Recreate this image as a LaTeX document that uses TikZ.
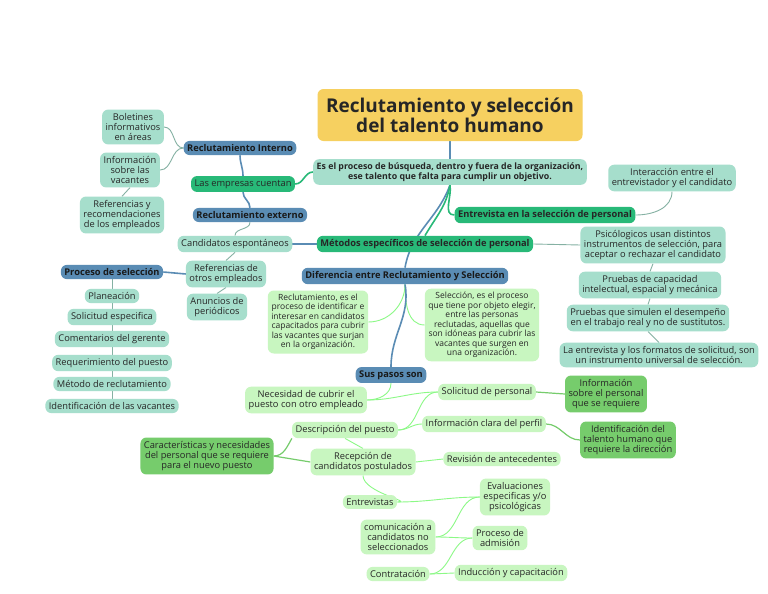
\documentclass[tikz,border=0pt]{standalone}
\usepackage{fontspec}
\setmainfont{Open Sans}
\usetikzlibrary{backgrounds}
\definecolor{teal}{RGB}{166,222,204}
\definecolor{blu}{RGB}{90,140,180}
\definecolor{grn}{RGB}{40,185,120}
\definecolor{lgr}{RGB}{200,246,192}
\definecolor{mgr}{RGB}{118,204,108}
\definecolor{yel}{RGB}{246,208,96}
\tikzset{
 base/.style={rounded corners=6pt, align=center, font=\fontsize{9.3}{10.3}\selectfont, inner sep=3.5pt, text=black!85},
 tl/.style={base, fill=teal},
 bl/.style={base, fill=blu, font=\fontsize{9.3}{10.3}\selectfont\bfseries, text=black!90},
 gn/.style={base, fill=grn, font=\fontsize{9.3}{10.3}\selectfont\bfseries},
 lg/.style={base, fill=lgr},
 mg/.style={base, fill=mgr},
 lnt/.style={teal!80!black, line width=0.9pt},
 lnb/.style={blu, line width=1.6pt},
 lng/.style={grn, line width=1.6pt},
 lnl/.style={lgr!70!green, line width=0.9pt},
 lnm/.style={mgr, line width=1.2pt},
}
\begin{document}
\begin{tikzpicture}[x=1pt,y=-1pt]
\useasboundingbox (0,0) rectangle (768,594);
% nodes
\node[base, fill=yel, font=\fontsize{19}{20}\selectfont\bfseries, minimum width=265pt, minimum height=52pt, inner sep=2pt] (title) at (450,115) {Reclutamiento y selección\\del talento humano};
\node[tl, font=\fontsize{8.8}{9.8}\selectfont\bfseries] (es) at (450,172) {Es el proceso de búsqueda, dentro y fuera de la organización,\\ese talento que falta para cumplir un objetivo.};
\node[tl] (inter) at (672,178) {Interacción entre el\\entrevistador y el candidato};
\node[gn] (entr) at (545,215) {Entrevista en la selección de personal};
\node[bl] (rint) at (240,148) {Reclutamiento Interno};
\node[tl] (bol) at (133,127) {Boletines\\informativos\\en áreas};
\node[tl] (infv) at (130,170) {Información\\sobre las\\vacantes};
\node[gn, font=\fontsize{9.3}{10.3}\selectfont] (emp) at (243,184) {Las empresas cuentan};
\node[tl] (refr) at (122,215) {Referencias y\\recomendaciones\\de los empleados};
\node[bl] (rext) at (250,215) {Reclutamiento externo};
\node[tl] (cand) at (235,244) {Candidatos espontáneos};
\node[gn] (met) at (425,244) {Métodos específicos de selección de personal};
\node[tl] (psi) at (653,245) {Psicólogicos usan distintos\\instrumentos de selección, para\\aceptar o rechazar el candidato};
\node[tl] (refo) at (226,274) {Referencias de\\otros empleados};
\node[bl] (pros) at (112,272) {Proceso de selección};
\node[bl] (dif) at (405,276) {Diferencia entre Reclutamiento y Selección};
\node[tl] (pcap) at (650,285) {Pruebas de capacidad\\intelectual, espacial y mecánica};
\node[tl] (anu) at (217,307) {Anuncios de\\periódicos};
\node[tl] (plan) at (112,296) {Planeación};
\node[tl] (sole) at (112,317) {Solicitud especifica};
\node[tl] (com) at (112,339) {Comentarios del gerente};
\node[tl] (req) at (112,363) {Requerimiento del puesto};
\node[tl] (metr) at (112,384) {Método de reclutamiento};
\node[tl] (idv) at (112,406) {Identificación de las vacantes};
\node[lg, font=\fontsize{8.5}{9.5}\selectfont] (recb) at (318,322) {Reclutamiento, es el\\proceso de identificar e\\interesar en candidatos\\capacitados para cubrir\\las vacantes que surjan\\en la organización.};
\node[lg, font=\fontsize{8.5}{9.5}\selectfont] (selb) at (482,325) {Selección, es el proceso\\que tiene por objeto elegir,\\entre las personas\\reclutadas, aquellas que\\son idóneas para cubrir las\\vacantes que surgen en\\una organización.};
\node[tl] (psim) at (648,318) {Pruebas que simulen el desempeño\\en el trabajo real y no de sustitutos.};
\node[tl] (lae) at (659,355) {La entrevista y los formatos de solicitud, son\\un instrumento universal de selección.};
\node[bl] (sus) at (391,375) {Sus pasos son};
\node[lg] (nec) at (306,400) {Necesidad de cubrir el\\puesto con otro empleado};
\node[lg] (solp) at (487,392) {Solicitud de personal};
\node[mg] (infp) at (606,394) {Información\\sobre el personal\\que se requiere};
\node[lg] (desc) at (345,430) {Descripción del puesto};
\node[lg] (infc) at (484,424) {Información clara del perfil};
\node[mg] (idt) at (628,440) {Identificación del\\talento humano que\\requiere la dirección};
\node[mg] (car) at (207,456) {Características y necesidades\\del personal que se requiere\\para el nuevo puesto};
\node[lg] (rec) at (363,462) {Recepción de\\candidatos postulados};
\node[lg] (rev) at (502,459) {Revisión de antecedentes};
\node[lg] (ent) at (370,502) {Entrevistas};
\node[lg] (eva) at (515,497) {Evaluaciones\\especificas y/o\\psicológicas};
\node[lg] (comu) at (398,537) {comunicación a\\candidatos no\\seleccionados};
\node[lg] (adm) at (500,538) {Proceso de\\admisión};
\node[lg] (con) at (398,574) {Contratación};
\node[lg] (ind) at (511,573) {Inducción y capacitación};
% connectors
\begin{scope}[on background layer]
\fill[white] (0,0) rectangle (768,594);
\draw[lnb] (title.south) to[out=-90,in=90] (es.north);
\draw[lnb] (es.south) to[out=-110,in=80] (dif.north);
\draw[lng] (es.south) to[out=-100,in=60] (met.north);
\draw[lng] (es.south) to[out=-80,in=180] (entr.west);
\draw[lnt] (entr.east) to[out=0,in=-90] (inter.south);
\draw[lng] (es.west) to[out=180,in=0] (emp.east);
\draw[lnb] (emp.north) to[out=90,in=-90] (rint.south);
\draw[lnb] (emp.south) to[out=-90,in=90] (rext.north);
\draw[lnt] (rint.west) to[out=180,in=0] (bol.east);
\draw[lnt] (rint.west) to[out=180,in=0] (infv.east);
\draw[lnt] (infv.south) -- (refr.north);
\draw[lnt] (rext.south) to[out=-90,in=90] (cand.north);
\draw[lnb] (met.west) -- (cand.east);
\draw[lnt] (met.east) -- (psi.west);
\draw[lnt] (cand.south) -- (refo.north);
\draw[lnb] (refo.west) -- (pros.east);
\draw[lnt] (refo.south) -- (anu.north);
\draw[lnt] (pros.south) -- (plan.north);
\draw[lnt] (plan.south) -- (sole.north);
\draw[lnt] (sole.south) -- (com.north);
\draw[lnt] (com.south) -- (req.north);
\draw[lnt] (req.south) -- (metr.north);
\draw[lnt] (metr.south) -- (idv.north);
\draw[lnt] (psi.south) -- (pcap.north);
\draw[lnt] (pcap.south) -- (psim.north);
\draw[lnt] (psim.south) -- (lae.north);
\draw[lnl] (dif.south) to[out=-90,in=0] (recb.east);
\draw[lnl] (dif.south) to[out=-90,in=180] (selb.west);
\draw[lnb] (dif.south) to[out=-80,in=90] (sus.north);
\draw[lnl] (sus.south) to[out=-90,in=0] (nec.east);
\draw[lnl] (nec.east) to[out=0,in=180] (solp.west);
\draw[lnm] (solp.east) -- (infp.west);
\draw[lnl] (solp.west) to[out=180,in=0] (desc.east);
\draw[lnl] (desc.east) to[out=0,in=180] (infc.west);
\draw[lnm] (infc.east) to[out=0,in=180] (idt.west);
\draw[lnm] (desc.south west) to[out=-120,in=0] (car.east);
\draw[lnl] (desc.south) -- (rec.north);
\draw[lnm] (rec.west) -- (car.east);
\draw[lnl] (rec.east) -- (rev.west);
\draw[lnl] (rec.south) to[out=-90,in=0] (ent.east);
\draw[lnl] (ent.east) to[out=0,in=180] (eva.west);
\draw[lnl] (eva.west) to[out=180,in=0] (comu.east);
\draw[lnl] (comu.east) to[out=0,in=180] (adm.west);
\draw[lnl] (adm.west) to[out=180,in=0] (con.east);
\draw[lnl] (con.east) -- (ind.west);
\end{scope}
\end{tikzpicture}
\end{document}
